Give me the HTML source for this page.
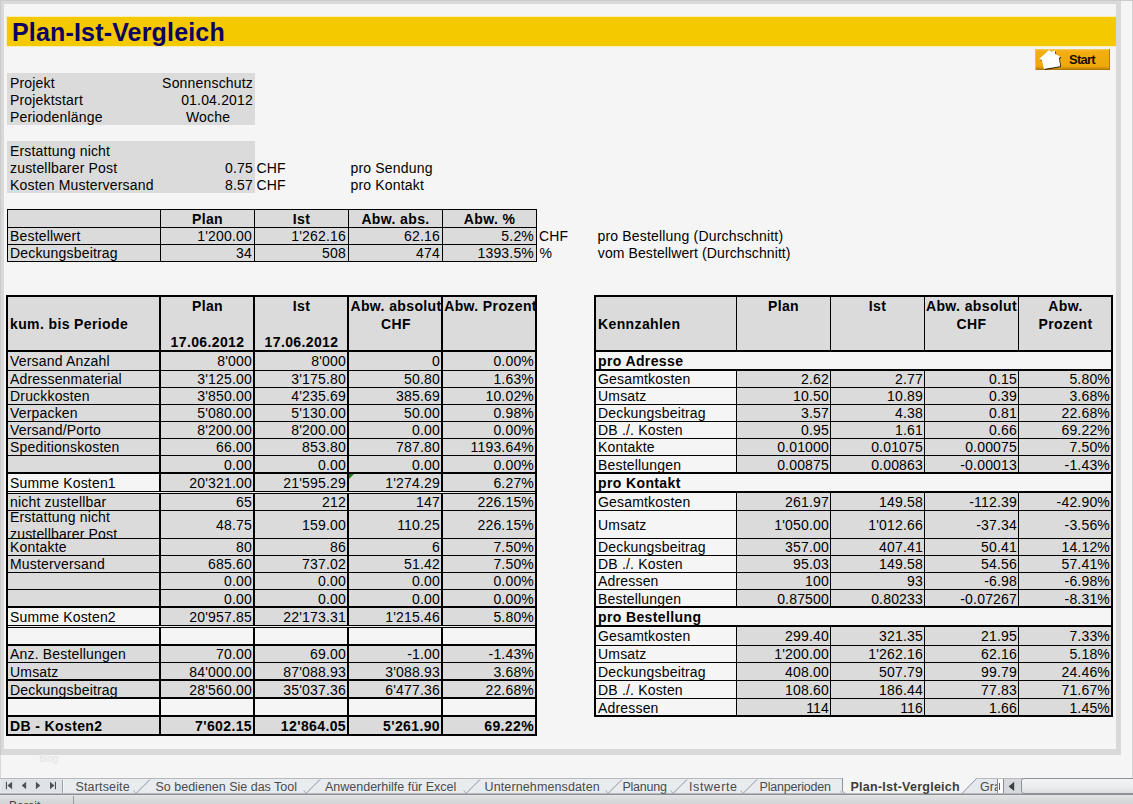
<!DOCTYPE html>
<html><head><meta charset="utf-8"><title>Plan-Ist-Vergleich</title>
<style>
html,body{margin:0;padding:0;}
body{width:1133px;height:804px;position:relative;overflow:hidden;background:#f5f5f5;font-family:"Liberation Sans",sans-serif;}
#root{position:absolute;left:0;top:0;width:1133px;height:804px;overflow:hidden;}
#root div,#root span,#root svg{position:absolute;}
.t{font-size:14px;line-height:16px;height:16px;white-space:nowrap;color:#000;}
.b{font-weight:bold;letter-spacing:0.38px !important;}
.t{letter-spacing:0.18px;}
.tab{font-size:12.5px;line-height:15px;color:#4a4a4a;white-space:nowrap;}
.title{font-size:25px;letter-spacing:0.17px;font-weight:bold;line-height:29px;color:#0c0064;white-space:nowrap;}
</style></head><body><div id="root">
<div style="left:0px;top:0px;width:1121px;height:755px;background:#d9d9d9;"></div>
<div style="left:4px;top:4px;width:1112px;height:745px;background:#f5f5f5;"></div>
<div style="left:6px;top:16px;width:1110px;height:31px;background:#f9efb4;"></div>
<div style="left:7px;top:17px;width:1109px;height:29px;background:#f4c900;"></div>
<span class="title" style="left:12px;top:18px;">Plan-Ist-Vergleich</span>
<div style="left:7px;top:73px;width:248px;height:52px;background:#dbdbdb;"></div>
<div style="left:7px;top:141px;width:248px;height:52px;background:#dbdbdb;"></div>
<span class="t " style="top:75px;left:10px;">Projekt</span>
<span class="t " style="top:92px;left:10px;">Projektstart</span>
<span class="t " style="top:109px;left:10px;">Periodenlänge</span>
<span class="t " style="top:75px;right:880px;text-align:right;">Sonnenschutz</span>
<span class="t " style="top:92px;right:880px;text-align:right;">01.04.2012</span>
<span class="t " style="top:109px;left:108.0px;width:200px;text-align:center;">Woche</span>
<span class="t " style="top:143px;left:10px;">Erstattung nicht</span>
<span class="t " style="top:160px;left:10px;">zustellbarer Post</span>
<span class="t " style="top:177px;left:10px;">Kosten Musterversand</span>
<span class="t " style="top:160px;right:880px;text-align:right;">0.75</span>
<span class="t " style="top:177px;right:880px;text-align:right;">8.57</span>
<span class="t " style="top:160px;left:256.5px;">CHF</span>
<span class="t " style="top:177px;left:256.5px;">CHF</span>
<span class="t " style="top:160px;left:350.5px;">pro Sendung</span>
<span class="t " style="top:177px;left:350.5px;">pro Kontakt</span>
<div style="left:7px;top:209px;width:530px;height:53px;background:#dbdbdb;"></div>
<div style="left:7px;top:209px;width:530px;height:1px;background:#000;"></div>
<div style="left:7px;top:227px;width:530px;height:1px;background:#000;"></div>
<div style="left:7px;top:244px;width:530px;height:1px;background:#000;"></div>
<div style="left:7px;top:261px;width:530px;height:1px;background:#000;"></div>
<div style="left:7px;top:209px;width:1px;height:53px;background:#000;"></div>
<div style="left:160px;top:209px;width:1px;height:53px;background:#000;"></div>
<div style="left:254px;top:209px;width:1px;height:53px;background:#000;"></div>
<div style="left:348px;top:209px;width:1px;height:53px;background:#000;"></div>
<div style="left:442px;top:209px;width:1px;height:53px;background:#000;"></div>
<div style="left:536px;top:209px;width:1px;height:53px;background:#000;"></div>
<span class="t b" style="top:211px;left:107.5px;width:200px;text-align:center;">Plan</span>
<span class="t b" style="top:211px;left:201.5px;width:200px;text-align:center;">Ist</span>
<span class="t b" style="top:211px;left:295.5px;width:200px;text-align:center;">Abw. abs.</span>
<span class="t b" style="top:211px;left:389.5px;width:200px;text-align:center;">Abw. %</span>
<span class="t " style="top:228px;left:10px;">Bestellwert</span>
<span class="t " style="top:245px;left:10px;">Deckungsbeitrag</span>
<span class="t " style="top:228px;right:881px;text-align:right;">1'200.00</span>
<span class="t " style="top:228px;right:787px;text-align:right;">1'262.16</span>
<span class="t " style="top:228px;right:693px;text-align:right;">62.16</span>
<span class="t " style="top:228px;right:599px;text-align:right;">5.2%</span>
<span class="t " style="top:245px;right:881px;text-align:right;">34</span>
<span class="t " style="top:245px;right:787px;text-align:right;">508</span>
<span class="t " style="top:245px;right:693px;text-align:right;">474</span>
<span class="t " style="top:245px;right:599px;text-align:right;">1393.5%</span>
<span class="t " style="top:228px;left:539px;">CHF</span>
<span class="t " style="top:245px;left:539.5px;">%</span>
<span class="t " style="top:228px;left:597.5px;">pro Bestellung (Durchschnitt)</span>
<span class="t " style="top:245px;left:597.8px;letter-spacing:0.1px;">vom Bestellwert (Durchschnitt)</span>
<div style="left:6px;top:295px;width:531px;height:441px;background:#dbdbdb;"></div>
<div style="left:8px;top:474px;width:151px;height:17px;background:#f5f5f5;"></div>
<div style="left:8px;top:608px;width:151px;height:17px;background:#f5f5f5;"></div>
<div style="left:8px;top:628px;width:529px;height:16px;background:#f5f5f5;"></div>
<div style="left:8px;top:699px;width:529px;height:16px;background:#f5f5f5;"></div>
<div style="left:6px;top:295px;width:531px;height:2px;background:#000;"></div>
<div style="left:6px;top:350px;width:531px;height:2px;background:#000;"></div>
<div style="left:6px;top:472px;width:531px;height:2px;background:#000;"></div>
<div style="left:6px;top:606px;width:531px;height:2px;background:#000;"></div>
<div style="left:6px;top:644px;width:531px;height:2px;background:#000;"></div>
<div style="left:6px;top:679px;width:531px;height:2px;background:#000;"></div>
<div style="left:6px;top:697px;width:531px;height:2px;background:#000;"></div>
<div style="left:6px;top:715px;width:531px;height:2px;background:#000;"></div>
<div style="left:6px;top:734px;width:531px;height:2px;background:#000;"></div>
<div style="left:6px;top:370px;width:531px;height:1px;background:#000;"></div>
<div style="left:6px;top:387px;width:531px;height:1px;background:#000;"></div>
<div style="left:6px;top:404px;width:531px;height:1px;background:#000;"></div>
<div style="left:6px;top:421px;width:531px;height:1px;background:#000;"></div>
<div style="left:6px;top:438px;width:531px;height:1px;background:#000;"></div>
<div style="left:6px;top:455px;width:531px;height:1px;background:#000;"></div>
<div style="left:6px;top:510px;width:531px;height:1px;background:#000;"></div>
<div style="left:6px;top:538px;width:531px;height:1px;background:#000;"></div>
<div style="left:6px;top:555px;width:531px;height:1px;background:#000;"></div>
<div style="left:6px;top:572px;width:531px;height:1px;background:#000;"></div>
<div style="left:6px;top:589px;width:531px;height:1px;background:#000;"></div>
<div style="left:6px;top:662px;width:531px;height:1px;background:#000;"></div>
<div style="left:6px;top:491px;width:531px;height:1px;background:#000;"></div>
<div style="left:6px;top:493px;width:531px;height:1px;background:#000;"></div>
<div style="left:6px;top:625px;width:531px;height:1px;background:#000;"></div>
<div style="left:6px;top:627px;width:531px;height:1px;background:#000;"></div>
<div style="left:6px;top:295px;width:2px;height:441px;background:#000;"></div>
<div style="left:159px;top:295px;width:2px;height:441px;background:#000;"></div>
<div style="left:253px;top:295px;width:2px;height:441px;background:#000;"></div>
<div style="left:347px;top:295px;width:2px;height:441px;background:#000;"></div>
<div style="left:441px;top:295px;width:2px;height:441px;background:#000;"></div>
<div style="left:535px;top:295px;width:2px;height:441px;background:#000;"></div>
<div style="left:8px;top:492px;width:527px;height:1px;background:#ececec;"></div>
<div style="left:8px;top:626px;width:527px;height:1px;background:#ececec;"></div>
<span class="t b" style="top:316px;left:10px;">kum. bis Periode</span>
<span class="t b" style="top:298px;left:107.5px;width:200px;text-align:center;">Plan</span>
<span class="t b" style="top:334px;left:107.5px;width:200px;text-align:center;">17.06.2012</span>
<span class="t b" style="top:298px;left:201.5px;width:200px;text-align:center;">Ist</span>
<span class="t b" style="top:334px;left:201.5px;width:200px;text-align:center;">17.06.2012</span>
<span class="t b" style="top:298px;left:296.0px;width:200px;text-align:center;">Abw. absolut</span>
<span class="t b" style="top:316px;left:296.0px;width:200px;text-align:center;">CHF</span>
<span class="t b" style="top:298px;left:390.5px;width:200px;text-align:center;">Abw. Prozent</span>
<span class="t " style="top:353px;left:10px;">Versand Anzahl</span>
<span class="t " style="top:353px;right:881px;text-align:right;">8'000</span>
<span class="t " style="top:353px;right:787px;text-align:right;">8'000</span>
<span class="t " style="top:353px;right:693px;text-align:right;">0</span>
<span class="t " style="top:353px;right:599px;text-align:right;">0.00%</span>
<span class="t " style="top:371px;left:10px;">Adressenmaterial</span>
<span class="t " style="top:371px;right:881px;text-align:right;">3'125.00</span>
<span class="t " style="top:371px;right:787px;text-align:right;">3'175.80</span>
<span class="t " style="top:371px;right:693px;text-align:right;">50.80</span>
<span class="t " style="top:371px;right:599px;text-align:right;">1.63%</span>
<span class="t " style="top:388px;left:10px;">Druckkosten</span>
<span class="t " style="top:388px;right:881px;text-align:right;">3'850.00</span>
<span class="t " style="top:388px;right:787px;text-align:right;">4'235.69</span>
<span class="t " style="top:388px;right:693px;text-align:right;">385.69</span>
<span class="t " style="top:388px;right:599px;text-align:right;">10.02%</span>
<span class="t " style="top:405px;left:10px;">Verpacken</span>
<span class="t " style="top:405px;right:881px;text-align:right;">5'080.00</span>
<span class="t " style="top:405px;right:787px;text-align:right;">5'130.00</span>
<span class="t " style="top:405px;right:693px;text-align:right;">50.00</span>
<span class="t " style="top:405px;right:599px;text-align:right;">0.98%</span>
<span class="t " style="top:422px;left:10px;">Versand/Porto</span>
<span class="t " style="top:422px;right:881px;text-align:right;">8'200.00</span>
<span class="t " style="top:422px;right:787px;text-align:right;">8'200.00</span>
<span class="t " style="top:422px;right:693px;text-align:right;">0.00</span>
<span class="t " style="top:422px;right:599px;text-align:right;">0.00%</span>
<span class="t " style="top:439px;left:10px;">Speditionskosten</span>
<span class="t " style="top:439px;right:881px;text-align:right;">66.00</span>
<span class="t " style="top:439px;right:787px;text-align:right;">853.80</span>
<span class="t " style="top:439px;right:693px;text-align:right;">787.80</span>
<span class="t " style="top:439px;right:599px;text-align:right;">1193.64%</span>
<span class="t " style="top:457px;right:881px;text-align:right;">0.00</span>
<span class="t " style="top:457px;right:787px;text-align:right;">0.00</span>
<span class="t " style="top:457px;right:693px;text-align:right;">0.00</span>
<span class="t " style="top:457px;right:599px;text-align:right;">0.00%</span>
<span class="t " style="top:475px;left:10px;">Summe Kosten1</span>
<span class="t " style="top:475px;right:881px;text-align:right;">20'321.00</span>
<span class="t " style="top:475px;right:787px;text-align:right;">21'595.29</span>
<span class="t " style="top:475px;right:693px;text-align:right;">1'274.29</span>
<span class="t " style="top:475px;right:599px;text-align:right;">6.27%</span>
<span class="t " style="top:494px;left:10px;">nicht zustellbar</span>
<span class="t " style="top:494px;right:881px;text-align:right;">65</span>
<span class="t " style="top:494px;right:787px;text-align:right;">212</span>
<span class="t " style="top:494px;right:693px;text-align:right;">147</span>
<span class="t " style="top:494px;right:599px;text-align:right;">226.15%</span>
<span class="t " style="top:517px;right:881px;text-align:right;">48.75</span>
<span class="t " style="top:517px;right:787px;text-align:right;">159.00</span>
<span class="t " style="top:517px;right:693px;text-align:right;">110.25</span>
<span class="t " style="top:517px;right:599px;text-align:right;">226.15%</span>
<span class="t " style="top:539px;left:10px;">Kontakte</span>
<span class="t " style="top:539px;right:881px;text-align:right;">80</span>
<span class="t " style="top:539px;right:787px;text-align:right;">86</span>
<span class="t " style="top:539px;right:693px;text-align:right;">6</span>
<span class="t " style="top:539px;right:599px;text-align:right;">7.50%</span>
<span class="t " style="top:556px;left:10px;">Musterversand</span>
<span class="t " style="top:556px;right:881px;text-align:right;">685.60</span>
<span class="t " style="top:556px;right:787px;text-align:right;">737.02</span>
<span class="t " style="top:556px;right:693px;text-align:right;">51.42</span>
<span class="t " style="top:556px;right:599px;text-align:right;">7.50%</span>
<span class="t " style="top:573px;right:881px;text-align:right;">0.00</span>
<span class="t " style="top:573px;right:787px;text-align:right;">0.00</span>
<span class="t " style="top:573px;right:693px;text-align:right;">0.00</span>
<span class="t " style="top:573px;right:599px;text-align:right;">0.00%</span>
<span class="t " style="top:591px;right:881px;text-align:right;">0.00</span>
<span class="t " style="top:591px;right:787px;text-align:right;">0.00</span>
<span class="t " style="top:591px;right:693px;text-align:right;">0.00</span>
<span class="t " style="top:591px;right:599px;text-align:right;">0.00%</span>
<span class="t " style="top:609px;left:10px;">Summe Kosten2</span>
<span class="t " style="top:609px;right:881px;text-align:right;">20'957.85</span>
<span class="t " style="top:609px;right:787px;text-align:right;">22'173.31</span>
<span class="t " style="top:609px;right:693px;text-align:right;">1'215.46</span>
<span class="t " style="top:609px;right:599px;text-align:right;">5.80%</span>
<span class="t " style="top:646px;left:10px;">Anz. Bestellungen</span>
<span class="t " style="top:646px;right:881px;text-align:right;">70.00</span>
<span class="t " style="top:646px;right:787px;text-align:right;">69.00</span>
<span class="t " style="top:646px;right:693px;text-align:right;">-1.00</span>
<span class="t " style="top:646px;right:599px;text-align:right;">-1.43%</span>
<span class="t " style="top:664px;left:10px;">Umsatz</span>
<span class="t " style="top:664px;right:881px;text-align:right;">84'000.00</span>
<span class="t " style="top:664px;right:787px;text-align:right;">87'088.93</span>
<span class="t " style="top:664px;right:693px;text-align:right;">3'088.93</span>
<span class="t " style="top:664px;right:599px;text-align:right;">3.68%</span>
<span class="t " style="top:682px;left:10px;">Deckungsbeitrag</span>
<span class="t " style="top:682px;right:881px;text-align:right;">28'560.00</span>
<span class="t " style="top:682px;right:787px;text-align:right;">35'037.36</span>
<span class="t " style="top:682px;right:693px;text-align:right;">6'477.36</span>
<span class="t " style="top:682px;right:599px;text-align:right;">22.68%</span>
<div style="left:8px;top:511px;width:151px;height:27px;overflow:hidden;"><span class="t" style="left:2px;top:-2px;">Erstattung nicht</span><span class="t" style="left:2px;top:15px;">zustellbarer Post</span></div>
<span class="t b" style="top:718px;left:10px;">DB - Kosten2</span>
<span class="t b" style="top:718px;right:881px;text-align:right;">7'602.15</span>
<span class="t b" style="top:718px;right:787px;text-align:right;">12'864.05</span>
<span class="t b" style="top:718px;right:693px;text-align:right;">5'261.90</span>
<span class="t b" style="top:718px;right:599px;text-align:right;">69.22%</span>
<div style="left:349px;top:474px;width:0;height:0;border-top:5px solid #1e7a1e;border-right:5px solid transparent;"></div>
<div style="left:594px;top:295px;width:519px;height:422px;background:#f5f5f5;"></div>
<div style="left:594px;top:295px;width:519px;height:55px;background:#dbdbdb;"></div>
<div style="left:737px;top:371px;width:376px;height:16px;background:#dbdbdb;"></div>
<div style="left:737px;top:388px;width:376px;height:16px;background:#dbdbdb;"></div>
<div style="left:737px;top:405px;width:376px;height:16px;background:#dbdbdb;"></div>
<div style="left:737px;top:422px;width:376px;height:16px;background:#dbdbdb;"></div>
<div style="left:737px;top:439px;width:376px;height:16px;background:#dbdbdb;"></div>
<div style="left:737px;top:456px;width:376px;height:16px;background:#dbdbdb;"></div>
<div style="left:737px;top:493px;width:376px;height:17px;background:#dbdbdb;"></div>
<div style="left:737px;top:511px;width:376px;height:27px;background:#dbdbdb;"></div>
<div style="left:737px;top:539px;width:376px;height:16px;background:#dbdbdb;"></div>
<div style="left:737px;top:556px;width:376px;height:16px;background:#dbdbdb;"></div>
<div style="left:737px;top:573px;width:376px;height:16px;background:#dbdbdb;"></div>
<div style="left:737px;top:590px;width:376px;height:16px;background:#dbdbdb;"></div>
<div style="left:737px;top:627px;width:376px;height:18px;background:#dbdbdb;"></div>
<div style="left:737px;top:646px;width:376px;height:16px;background:#dbdbdb;"></div>
<div style="left:737px;top:663px;width:376px;height:17px;background:#dbdbdb;"></div>
<div style="left:737px;top:681px;width:376px;height:17px;background:#dbdbdb;"></div>
<div style="left:737px;top:699px;width:376px;height:16px;background:#dbdbdb;"></div>
<div style="left:594px;top:295px;width:519px;height:2px;background:#000;"></div>
<div style="left:594px;top:350px;width:519px;height:2px;background:#000;"></div>
<div style="left:594px;top:369px;width:519px;height:2px;background:#000;"></div>
<div style="left:594px;top:472px;width:519px;height:2px;background:#000;"></div>
<div style="left:594px;top:491px;width:519px;height:2px;background:#000;"></div>
<div style="left:594px;top:606px;width:519px;height:2px;background:#000;"></div>
<div style="left:594px;top:625px;width:519px;height:2px;background:#000;"></div>
<div style="left:594px;top:715px;width:519px;height:2px;background:#000;"></div>
<div style="left:594px;top:387px;width:519px;height:1px;background:#000;"></div>
<div style="left:594px;top:404px;width:519px;height:1px;background:#000;"></div>
<div style="left:594px;top:421px;width:519px;height:1px;background:#000;"></div>
<div style="left:594px;top:438px;width:519px;height:1px;background:#000;"></div>
<div style="left:594px;top:455px;width:519px;height:1px;background:#000;"></div>
<div style="left:594px;top:510px;width:519px;height:1px;background:#000;"></div>
<div style="left:594px;top:538px;width:519px;height:1px;background:#000;"></div>
<div style="left:594px;top:555px;width:519px;height:1px;background:#000;"></div>
<div style="left:594px;top:572px;width:519px;height:1px;background:#000;"></div>
<div style="left:594px;top:589px;width:519px;height:1px;background:#000;"></div>
<div style="left:594px;top:645px;width:519px;height:1px;background:#000;"></div>
<div style="left:594px;top:662px;width:519px;height:1px;background:#000;"></div>
<div style="left:594px;top:680px;width:519px;height:1px;background:#000;"></div>
<div style="left:594px;top:698px;width:519px;height:1px;background:#000;"></div>
<div style="left:594px;top:295px;width:2px;height:422px;background:#000;"></div>
<div style="left:1111px;top:295px;width:2px;height:422px;background:#000;"></div>
<div style="left:736px;top:297px;width:1px;height:53px;background:#000;"></div>
<div style="left:736px;top:371px;width:1px;height:101px;background:#000;"></div>
<div style="left:736px;top:493px;width:1px;height:113px;background:#000;"></div>
<div style="left:736px;top:627px;width:1px;height:88px;background:#000;"></div>
<div style="left:830px;top:297px;width:1px;height:53px;background:#000;"></div>
<div style="left:830px;top:371px;width:1px;height:101px;background:#000;"></div>
<div style="left:830px;top:493px;width:1px;height:113px;background:#000;"></div>
<div style="left:830px;top:627px;width:1px;height:88px;background:#000;"></div>
<div style="left:924px;top:297px;width:1px;height:53px;background:#000;"></div>
<div style="left:924px;top:371px;width:1px;height:101px;background:#000;"></div>
<div style="left:924px;top:493px;width:1px;height:113px;background:#000;"></div>
<div style="left:924px;top:627px;width:1px;height:88px;background:#000;"></div>
<div style="left:1018px;top:297px;width:1px;height:53px;background:#000;"></div>
<div style="left:1018px;top:371px;width:1px;height:101px;background:#000;"></div>
<div style="left:1018px;top:493px;width:1px;height:113px;background:#000;"></div>
<div style="left:1018px;top:627px;width:1px;height:88px;background:#000;"></div>
<span class="t b" style="top:316px;left:598px;">Kennzahlen</span>
<span class="t b" style="top:298px;left:683.5px;width:200px;text-align:center;">Plan</span>
<span class="t b" style="top:298px;left:777.5px;width:200px;text-align:center;">Ist</span>
<span class="t b" style="top:298px;left:871.5px;width:200px;text-align:center;">Abw. absolut</span>
<span class="t b" style="top:316px;left:871.5px;width:200px;text-align:center;">CHF</span>
<span class="t b" style="top:298px;left:965.5px;width:200px;text-align:center;">Abw.</span>
<span class="t b" style="top:316px;left:965.5px;width:200px;text-align:center;">Prozent</span>
<span class="t b" style="top:353px;left:598px;">pro Adresse</span>
<span class="t b" style="top:475px;left:598px;">pro Kontakt</span>
<span class="t b" style="top:609px;left:598px;">pro Bestellung</span>
<span class="t " style="top:371px;left:598px;">Gesamtkosten</span>
<span class="t " style="top:371px;right:304px;text-align:right;">2.62</span>
<span class="t " style="top:371px;right:210px;text-align:right;">2.77</span>
<span class="t " style="top:371px;right:116px;text-align:right;">0.15</span>
<span class="t " style="top:371px;right:23px;text-align:right;">5.80%</span>
<span class="t " style="top:388px;left:598px;">Umsatz</span>
<span class="t " style="top:388px;right:304px;text-align:right;">10.50</span>
<span class="t " style="top:388px;right:210px;text-align:right;">10.89</span>
<span class="t " style="top:388px;right:116px;text-align:right;">0.39</span>
<span class="t " style="top:388px;right:23px;text-align:right;">3.68%</span>
<span class="t " style="top:405px;left:598px;">Deckungsbeitrag</span>
<span class="t " style="top:405px;right:304px;text-align:right;">3.57</span>
<span class="t " style="top:405px;right:210px;text-align:right;">4.38</span>
<span class="t " style="top:405px;right:116px;text-align:right;">0.81</span>
<span class="t " style="top:405px;right:23px;text-align:right;">22.68%</span>
<span class="t " style="top:422px;left:598px;">DB ./. Kosten</span>
<span class="t " style="top:422px;right:304px;text-align:right;">0.95</span>
<span class="t " style="top:422px;right:210px;text-align:right;">1.61</span>
<span class="t " style="top:422px;right:116px;text-align:right;">0.66</span>
<span class="t " style="top:422px;right:23px;text-align:right;">69.22%</span>
<span class="t " style="top:439px;left:598px;">Kontakte</span>
<span class="t " style="top:439px;right:304px;text-align:right;">0.01000</span>
<span class="t " style="top:439px;right:210px;text-align:right;">0.01075</span>
<span class="t " style="top:439px;right:116px;text-align:right;">0.00075</span>
<span class="t " style="top:439px;right:23px;text-align:right;">7.50%</span>
<span class="t " style="top:457px;left:598px;">Bestellungen</span>
<span class="t " style="top:457px;right:304px;text-align:right;">0.00875</span>
<span class="t " style="top:457px;right:210px;text-align:right;">0.00863</span>
<span class="t " style="top:457px;right:116px;text-align:right;">-0.00013</span>
<span class="t " style="top:457px;right:23px;text-align:right;">-1.43%</span>
<span class="t " style="top:494px;left:598px;">Gesamtkosten</span>
<span class="t " style="top:494px;right:304px;text-align:right;">261.97</span>
<span class="t " style="top:494px;right:210px;text-align:right;">149.58</span>
<span class="t " style="top:494px;right:116px;text-align:right;">-112.39</span>
<span class="t " style="top:494px;right:23px;text-align:right;">-42.90%</span>
<span class="t " style="top:517px;left:598px;">Umsatz</span>
<span class="t " style="top:517px;right:304px;text-align:right;">1'050.00</span>
<span class="t " style="top:517px;right:210px;text-align:right;">1'012.66</span>
<span class="t " style="top:517px;right:116px;text-align:right;">-37.34</span>
<span class="t " style="top:517px;right:23px;text-align:right;">-3.56%</span>
<span class="t " style="top:539px;left:598px;">Deckungsbeitrag</span>
<span class="t " style="top:539px;right:304px;text-align:right;">357.00</span>
<span class="t " style="top:539px;right:210px;text-align:right;">407.41</span>
<span class="t " style="top:539px;right:116px;text-align:right;">50.41</span>
<span class="t " style="top:539px;right:23px;text-align:right;">14.12%</span>
<span class="t " style="top:556px;left:598px;">DB ./. Kosten</span>
<span class="t " style="top:556px;right:304px;text-align:right;">95.03</span>
<span class="t " style="top:556px;right:210px;text-align:right;">149.58</span>
<span class="t " style="top:556px;right:116px;text-align:right;">54.56</span>
<span class="t " style="top:556px;right:23px;text-align:right;">57.41%</span>
<span class="t " style="top:573px;left:598px;">Adressen</span>
<span class="t " style="top:573px;right:304px;text-align:right;">100</span>
<span class="t " style="top:573px;right:210px;text-align:right;">93</span>
<span class="t " style="top:573px;right:116px;text-align:right;">-6.98</span>
<span class="t " style="top:573px;right:23px;text-align:right;">-6.98%</span>
<span class="t " style="top:591px;left:598px;">Bestellungen</span>
<span class="t " style="top:591px;right:304px;text-align:right;">0.87500</span>
<span class="t " style="top:591px;right:210px;text-align:right;">0.80233</span>
<span class="t " style="top:591px;right:116px;text-align:right;">-0.07267</span>
<span class="t " style="top:591px;right:23px;text-align:right;">-8.31%</span>
<span class="t " style="top:628px;left:598px;">Gesamtkosten</span>
<span class="t " style="top:628px;right:304px;text-align:right;">299.40</span>
<span class="t " style="top:628px;right:210px;text-align:right;">321.35</span>
<span class="t " style="top:628px;right:116px;text-align:right;">21.95</span>
<span class="t " style="top:628px;right:23px;text-align:right;">7.33%</span>
<span class="t " style="top:646px;left:598px;">Umsatz</span>
<span class="t " style="top:646px;right:304px;text-align:right;">1'200.00</span>
<span class="t " style="top:646px;right:210px;text-align:right;">1'262.16</span>
<span class="t " style="top:646px;right:116px;text-align:right;">62.16</span>
<span class="t " style="top:646px;right:23px;text-align:right;">5.18%</span>
<span class="t " style="top:664px;left:598px;">Deckungsbeitrag</span>
<span class="t " style="top:664px;right:304px;text-align:right;">408.00</span>
<span class="t " style="top:664px;right:210px;text-align:right;">507.79</span>
<span class="t " style="top:664px;right:116px;text-align:right;">99.79</span>
<span class="t " style="top:664px;right:23px;text-align:right;">24.46%</span>
<span class="t " style="top:682px;left:598px;">DB ./. Kosten</span>
<span class="t " style="top:682px;right:304px;text-align:right;">108.60</span>
<span class="t " style="top:682px;right:210px;text-align:right;">186.44</span>
<span class="t " style="top:682px;right:116px;text-align:right;">77.83</span>
<span class="t " style="top:682px;right:23px;text-align:right;">71.67%</span>
<span class="t " style="top:700px;left:598px;">Adressen</span>
<span class="t " style="top:700px;right:304px;text-align:right;">114</span>
<span class="t " style="top:700px;right:210px;text-align:right;">116</span>
<span class="t " style="top:700px;right:116px;text-align:right;">1.66</span>
<span class="t " style="top:700px;right:23px;text-align:right;">1.45%</span>
<div style="left:1035px;top:48.5px;width:75px;height:21.5px;background:linear-gradient(#f8cc58 0,#f2ae12 2px,#f0a90c 17px,#c48608 20px,#8a5e06 21.5px);box-shadow:inset -1px 0 0 #b88008, inset 1px 0 0 #f5bd3a;"></div>
<svg style="left:1035px;top:45px;" width="40" height="28" viewBox="0 0 40 28">
<path d="M14.05 4.9 L17.2 7.3 L17.6 6.1 L19.6 5.6 L20.4 8.9 L25.6 11.7 L24.0 12.9 L25.2 21.2 L8.9 24.0 L6.9 14.9 L4.1 14.1 Z" fill="#2e2206" transform="translate(0.9,0.9)"/>
<path d="M14.05 4.9 L17.2 7.3 L17.6 6.1 L19.6 5.6 L20.4 8.9 L25.6 11.7 L24.0 12.9 L25.2 21.2 L8.9 24.0 L6.9 14.9 L4.1 14.1 Z" fill="#ffffff"/>
</svg>
<span style="left:1069px;top:52px;font-size:13px;font-weight:bold;line-height:16px;letter-spacing:-0.75px;color:#1a0e00;white-space:nowrap;">Start</span>
<div style="left:0;top:755px;width:1px;height:50px;background:#d8d8d8;"></div>
<span style="left:39.5px;top:752.5px;font-size:10px;line-height:12px;color:#e2e2e2;">blog</span>
<div style="left:0;top:778px;width:1133px;height:17px;background:#e5e8ec;"></div>
<div style="left:0;top:778px;width:1133px;height:1px;background:#b6babe;"></div>
<div style="left:0;top:793px;width:1133px;height:1px;background:#b4b8bc;"></div>
<div style="left:0;top:794px;width:1133px;height:1px;background:#8e9296;"></div>
<div style="left:0;top:795px;width:1133px;height:9px;background:linear-gradient(#e2e3e5,#d1d3d5);"></div>
<div style="left:1px;top:779px;width:61px;height:13px;background:#dfe3e8;"></div>
<div style="left:63px;top:779px;width:779px;height:14px;background:#e9ecef;"></div>
<svg style="left:0;top:779px;" width="64" height="15" viewBox="0 0 64 15">
<g fill="#4b5057">
<rect x="5.9" y="2.8" width="1.1" height="7.4"/><path d="M12.1 2.8 L12.1 10.2 L7.4 6.5Z"/>
<path d="M26.1 2.8 L26.1 10.2 L21.7 6.5Z"/>
<path d="M35.9 2.8 L35.9 10.2 L40.3 6.5Z"/>
<path d="M50 2.8 L50 10.2 L54.4 6.5Z"/><rect x="54.9" y="2.8" width="1.1" height="7.4"/>
</g>
<rect x="62" y="1" width="1" height="13" fill="#9aa0a8"/><rect x="63" y="1" width="1" height="13" fill="#f4f6f8"/>
</svg>
<span class="tab" style="left:75.5px;top:780px;letter-spacing:0.15px;">Startseite</span>
<span class="tab" style="left:155.5px;top:780px;letter-spacing:0px;">So bedienen Sie das Tool</span>
<span class="tab" style="left:325px;top:780px;letter-spacing:0px;">Anwenderhilfe für Excel</span>
<span class="tab" style="left:484.5px;top:780px;letter-spacing:0.12px;">Unternehmensdaten</span>
<span class="tab" style="left:622.5px;top:780px;letter-spacing:-0.25px;">Planung</span>
<span class="tab" style="left:689px;top:780px;letter-spacing:0.6px;">Istwerte</span>
<span class="tab" style="left:759.5px;top:780px;letter-spacing:-0.2px;">Planperioden</span>
<svg style="left:0;top:778px;" width="1133" height="17" viewBox="0 0 1133 17"><g stroke="#8e949c" stroke-width="1" fill="none"><path d="M136 15.5 L150 1.5"/><path d="M133.5 12 L136 15.5" stroke="#b0b4ba"/><path d="M306 15.5 L320 1.5"/><path d="M303.5 12 L306 15.5" stroke="#b0b4ba"/><path d="M466 15.5 L480 1.5"/><path d="M463.5 12 L466 15.5" stroke="#b0b4ba"/><path d="M608 15.5 L622 1.5"/><path d="M605.5 12 L608 15.5" stroke="#b0b4ba"/><path d="M673 15.5 L687 1.5"/><path d="M670.5 12 L673 15.5" stroke="#b0b4ba"/><path d="M743 15.5 L757 1.5"/><path d="M740.5 12 L743 15.5" stroke="#b0b4ba"/></g><path d="M842.5 0 L842.5 13 L845 15 L962 15 L976.5 0 Z" fill="#f5f5f5"/><path d="M842.5 0 L842.5 13 L845 15.5 M962 15.5 L976.5 0.5" fill="none" stroke="#8e949c"/><path d="M840 12.5 L842.5 15.5" stroke="#b0b4ba" fill="none"/></svg>
<span class="tab" style="left:850.5px;top:780px;font-weight:bold;color:#3c3c3c;letter-spacing:0.25px;">Plan-Ist-Vergleich</span>
<span class="tab" style="left:980px;top:780px;">Gra</span>
<div style="left:996.5px;top:779px;width:7.5px;height:14px;background:#fbfbfb;border-left:1px solid #8a8e92;border-right:1px solid #8a8e92;box-sizing:border-box;"></div>
<div style="left:999.3px;top:783px;width:1.2px;height:7px;background:#5a5e62;"></div>
<div style="left:1004px;top:779px;width:17px;height:14px;background:#d6dadf;"></div>
<svg style="left:1004px;top:779px;" width="17" height="15" viewBox="0 0 17 15"><path d="M10.2 2.8 L10.2 12 L4.6 7.4Z" fill="#3c3f42"/></svg>
<div style="left:1021px;top:778px;width:114px;height:16px;background:linear-gradient(#f3f4f5,#e9ebed 60%,#dcdfe2);border:1px solid #8f9397;box-sizing:border-box;border-radius:3px 0 0 3px;"></div>
<span style="left:9px;top:798.5px;font-size:12px;line-height:14px;color:#444;">Bereit</span>
<div style="left:73px;top:796px;width:1px;height:8px;background:#9a9a9a;"></div>
<div style="left:0;top:0;width:1133px;height:1px;background:#cbcbcb;"></div>
<div style="left:0;top:0;width:1px;height:755px;background:#cbcbcb;"></div>
<div style="left:1121px;top:1px;width:12px;height:3px;background:#f5f5f5;"></div>
<div style="left:1132px;top:1px;width:1px;height:777px;background:#d2d2d2;"></div>
</div></body></html>
